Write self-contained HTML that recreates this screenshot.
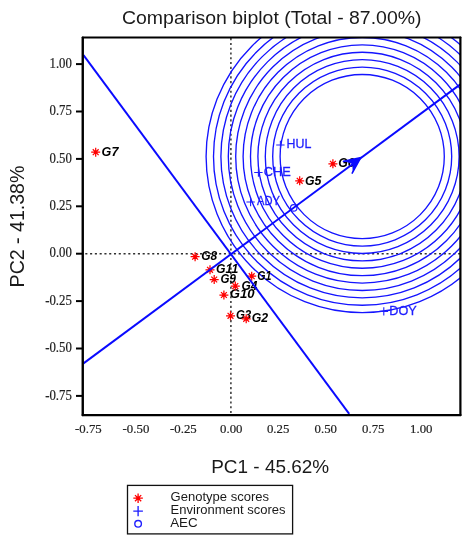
<!DOCTYPE html>
<html lang="en"><head><meta charset="utf-8"><title>Comparison biplot</title>
<style>html,body{margin:0;padding:0;background:#fff;}svg{display:block}.t{font-family:"Liberation Sans",Arial,sans-serif;fill:#1a1a1a}.s{font-family:"Liberation Serif","Times New Roman",serif;fill:#222;font-size:14px;stroke:#222;stroke-width:0.2px}.e{font-family:"Liberation Sans",Arial,sans-serif;fill:#1e1eff;font-size:12.3px;stroke:#1e1eff;stroke-width:0.3px}.g{font-family:"Liberation Sans",Arial,sans-serif;font-weight:bold;font-style:italic;fill:#000;font-size:13.3px}</style></head><body>
<svg width="469" height="550" viewBox="0 0 469 550">
<rect x="0" y="0" width="469" height="550" fill="#fff"/>
<defs>
<clipPath id="cp"><rect x="82.75" y="37.6" width="377.65" height="377.5"/></clipPath>
<g id="ast"><path d="M-4.50 -0.00L4.50 0.00M-2.93 -2.93L2.93 2.93M-0.00 -4.50L0.00 4.50M2.93 -2.93L-2.93 2.93" stroke="#ff0000" stroke-width="1.25" fill="none" stroke-linecap="butt"/><circle r="1.6" fill="#ff0000"/></g>
<path id="pl" d="M-4.2 0H4.2M0 -4.2V4.2" stroke="#1f1fff" stroke-width="1.1" fill="none"/>
</defs>
<text class="t" x="122" y="24.4" font-size="18.7" textLength="299.5" lengthAdjust="spacingAndGlyphs">Comparison biplot (Total - 87.00%)</text>
<g clip-path="url(#cp)">
<line x1="82.75" y1="253.7" x2="460.4" y2="253.7" stroke="#303030" stroke-width="1.45" stroke-dasharray="2.1 2.68" stroke-dashoffset="2.25"/>
<line x1="230.9" y1="37.6" x2="230.9" y2="415.1" stroke="#303030" stroke-width="1.5" stroke-dasharray="2.1 2.68" stroke-dashoffset="-0.5"/>
<circle cx="362.2" cy="156.55" r="82.10" fill="none" stroke="#1414ff" stroke-width="1.35"/>
<circle cx="362.2" cy="156.55" r="89.50" fill="none" stroke="#1414ff" stroke-width="1.35"/>
<circle cx="362.2" cy="156.55" r="96.90" fill="none" stroke="#1414ff" stroke-width="1.35"/>
<circle cx="362.2" cy="156.55" r="104.30" fill="none" stroke="#1414ff" stroke-width="1.35"/>
<circle cx="362.2" cy="156.55" r="111.70" fill="none" stroke="#1414ff" stroke-width="1.35"/>
<circle cx="362.2" cy="156.55" r="119.10" fill="none" stroke="#1414ff" stroke-width="1.35"/>
<circle cx="362.2" cy="156.55" r="126.50" fill="none" stroke="#1414ff" stroke-width="1.35"/>
<circle cx="362.2" cy="156.55" r="133.90" fill="none" stroke="#1414ff" stroke-width="1.35"/>
<circle cx="362.2" cy="156.55" r="141.30" fill="none" stroke="#1414ff" stroke-width="1.35"/>
<circle cx="362.2" cy="156.55" r="148.70" fill="none" stroke="#1414ff" stroke-width="1.35"/>
<circle cx="362.2" cy="156.55" r="156.10" fill="none" stroke="#1414ff" stroke-width="1.35"/>
<use href="#pl" x="280.4" y="145.0"/>
<text class="e" x="286.6" y="148.4" textLength="24.8" lengthAdjust="spacingAndGlyphs">HUL</text>
<use href="#pl" x="258.4" y="172.5"/>
<text class="e" x="263.8" y="175.9" textLength="27.0" lengthAdjust="spacingAndGlyphs">CHE</text>
<use href="#pl" x="250.6" y="202.0"/>
<text class="e" x="257.1" y="205.3" textLength="22.9" lengthAdjust="spacingAndGlyphs">ADY</text>
<use href="#pl" x="383.8" y="311.4"/>
<text class="e" x="389.3" y="315.0" textLength="27.4" lengthAdjust="spacingAndGlyphs">DOY</text>
<circle cx="293.7" cy="207.9" r="3.2" fill="none" stroke="#1f1fff" stroke-width="1.25"/>
<text class="g" x="101.6" y="155.5" textLength="16.8" lengthAdjust="spacingAndGlyphs">G7</text>
<text class="g" x="338.2" y="167.0" textLength="16.4" lengthAdjust="spacingAndGlyphs">G6</text>
<text class="g" x="305.0" y="184.7" textLength="16.4" lengthAdjust="spacingAndGlyphs">G5</text>
<text class="g" x="201.2" y="259.8" textLength="16.0" lengthAdjust="spacingAndGlyphs">G8</text>
<text class="g" x="216.0" y="272.9" textLength="22.2" lengthAdjust="spacingAndGlyphs">G11</text>
<text class="g" x="220.5" y="283.0" textLength="15.4" lengthAdjust="spacingAndGlyphs">G9</text>
<text class="g" x="257.2" y="280.1" textLength="14.2" lengthAdjust="spacingAndGlyphs">G1</text>
<text class="g" x="241.6" y="289.7" textLength="15.9" lengthAdjust="spacingAndGlyphs">G4</text>
<text class="g" x="229.8" y="298.1" textLength="24.8" lengthAdjust="spacingAndGlyphs">G10</text>
<text class="g" x="235.9" y="319.1" textLength="15.4" lengthAdjust="spacingAndGlyphs">G3</text>
<text class="g" x="251.8" y="321.6" textLength="16.4" lengthAdjust="spacingAndGlyphs">G2</text>
<use href="#ast" x="95.7" y="152.2"/>
<use href="#ast" x="332.9" y="163.8"/>
<use href="#ast" x="299.7" y="180.8"/>
<use href="#ast" x="195.1" y="256.7"/>
<use href="#ast" x="210.0" y="269.8"/>
<use href="#ast" x="214.2" y="279.5"/>
<use href="#ast" x="251.7" y="276.2"/>
<use href="#ast" x="235.3" y="286.1"/>
<use href="#ast" x="223.9" y="295.0"/>
<use href="#ast" x="230.5" y="315.8"/>
<use href="#ast" x="246.2" y="318.8"/>
<line x1="83.5" y1="363.4" x2="460.3" y2="84.4" stroke="#0a0aff" stroke-width="1.95"/>
<line x1="83.5" y1="55.2" x2="349.2" y2="413.8" stroke="#0a0aff" stroke-width="1.95"/>
<path d="M343.5 161.4L360.7 157.7L352.2 173.1" stroke="#0a0aff" stroke-width="1.6" fill="none" stroke-linejoin="miter" stroke-linecap="round"/>
<path d="M344.5 161.2L360.7 157.7L352.7 172.2L352.3 163.9Z" fill="#0a0aff"/>
</g>
<path d="M82.75 37.6V415.1" stroke="#000" stroke-width="2.4" fill="none" stroke-linecap="round"/>
<path d="M82.75 415.1H460.4" stroke="#000" stroke-width="2.45" fill="none" stroke-linecap="round"/>
<path d="M460.4 415.1V37.6" stroke="#000" stroke-width="2.2" fill="none" stroke-linecap="round"/>
<path d="M82.75 37.6H460.4" stroke="#000" stroke-width="2.0" fill="none" stroke-linecap="round"/>
<line x1="76" y1="64.10" x2="82.75" y2="64.10" stroke="#000" stroke-width="2"/>
<text class="s" x="49.5" y="67.8" textLength="22.4" lengthAdjust="spacingAndGlyphs">1.00</text>
<line x1="76" y1="111.50" x2="82.75" y2="111.50" stroke="#000" stroke-width="2"/>
<text class="s" x="49.5" y="115.2" textLength="22.4" lengthAdjust="spacingAndGlyphs">0.75</text>
<line x1="76" y1="158.90" x2="82.75" y2="158.90" stroke="#000" stroke-width="2"/>
<text class="s" x="49.5" y="162.6" textLength="22.4" lengthAdjust="spacingAndGlyphs">0.50</text>
<line x1="76" y1="206.30" x2="82.75" y2="206.30" stroke="#000" stroke-width="2"/>
<text class="s" x="49.5" y="210.0" textLength="22.4" lengthAdjust="spacingAndGlyphs">0.25</text>
<line x1="76" y1="253.70" x2="82.75" y2="253.70" stroke="#000" stroke-width="2"/>
<text class="s" x="49.5" y="257.4" textLength="22.4" lengthAdjust="spacingAndGlyphs">0.00</text>
<line x1="76" y1="301.10" x2="82.75" y2="301.10" stroke="#000" stroke-width="2"/>
<text class="s" x="45.2" y="304.8" textLength="26.7" lengthAdjust="spacingAndGlyphs">-0.25</text>
<line x1="76" y1="348.50" x2="82.75" y2="348.50" stroke="#000" stroke-width="2"/>
<text class="s" x="45.2" y="352.2" textLength="26.7" lengthAdjust="spacingAndGlyphs">-0.50</text>
<line x1="76" y1="395.90" x2="82.75" y2="395.90" stroke="#000" stroke-width="2"/>
<text class="s" x="45.2" y="399.6" textLength="26.7" lengthAdjust="spacingAndGlyphs">-0.75</text>
<text class="s" style="font-size:13.3px" x="75.0" y="432.9" textLength="26.7" lengthAdjust="spacingAndGlyphs">-0.75</text>
<text class="s" style="font-size:13.3px" x="122.6" y="432.9" textLength="26.7" lengthAdjust="spacingAndGlyphs">-0.50</text>
<text class="s" style="font-size:13.3px" x="170.0" y="432.9" textLength="26.7" lengthAdjust="spacingAndGlyphs">-0.25</text>
<text class="s" style="font-size:13.3px" x="220.1" y="432.9" textLength="22.4" lengthAdjust="spacingAndGlyphs">0.00</text>
<text class="s" style="font-size:13.3px" x="266.9" y="432.9" textLength="22.4" lengthAdjust="spacingAndGlyphs">0.25</text>
<text class="s" style="font-size:13.3px" x="314.6" y="432.9" textLength="22.4" lengthAdjust="spacingAndGlyphs">0.50</text>
<text class="s" style="font-size:13.3px" x="362.1" y="432.9" textLength="22.4" lengthAdjust="spacingAndGlyphs">0.75</text>
<text class="s" style="font-size:13.3px" x="410.1" y="432.9" textLength="22.4" lengthAdjust="spacingAndGlyphs">1.00</text>
<text class="t" x="211.2" y="473.2" font-size="19" textLength="118" lengthAdjust="spacingAndGlyphs">PC1 - 45.62%</text>
<text class="t" transform="translate(24.4 287.4) rotate(-90)" font-size="19.8" textLength="121.8" lengthAdjust="spacingAndGlyphs">PC2 - 41.38%</text>
<rect x="127.5" y="485.4" width="165.1" height="48.5" fill="#fff" stroke="#111" stroke-width="1.3"/>
<use href="#ast" transform="translate(138.1 498.2) scale(1.06)"/>
<path d="M133.3 511.1H142.9M138.1 506.1V516.3" stroke="#1f1fff" stroke-width="1.35" fill="none"/>
<circle cx="138.1" cy="523.8" r="3.3" fill="none" stroke="#1f1fff" stroke-width="1.4"/>
<text class="t" x="170.6" y="501.2" font-size="12.2" textLength="98.5" lengthAdjust="spacingAndGlyphs">Genotype scores</text>
<text class="t" x="170.6" y="514.2" font-size="12.2" textLength="115" lengthAdjust="spacingAndGlyphs">Environment scores</text>
<text class="t" x="170.2" y="527" font-size="12.2" textLength="27.5" lengthAdjust="spacingAndGlyphs">AEC</text>
</svg></body></html>
